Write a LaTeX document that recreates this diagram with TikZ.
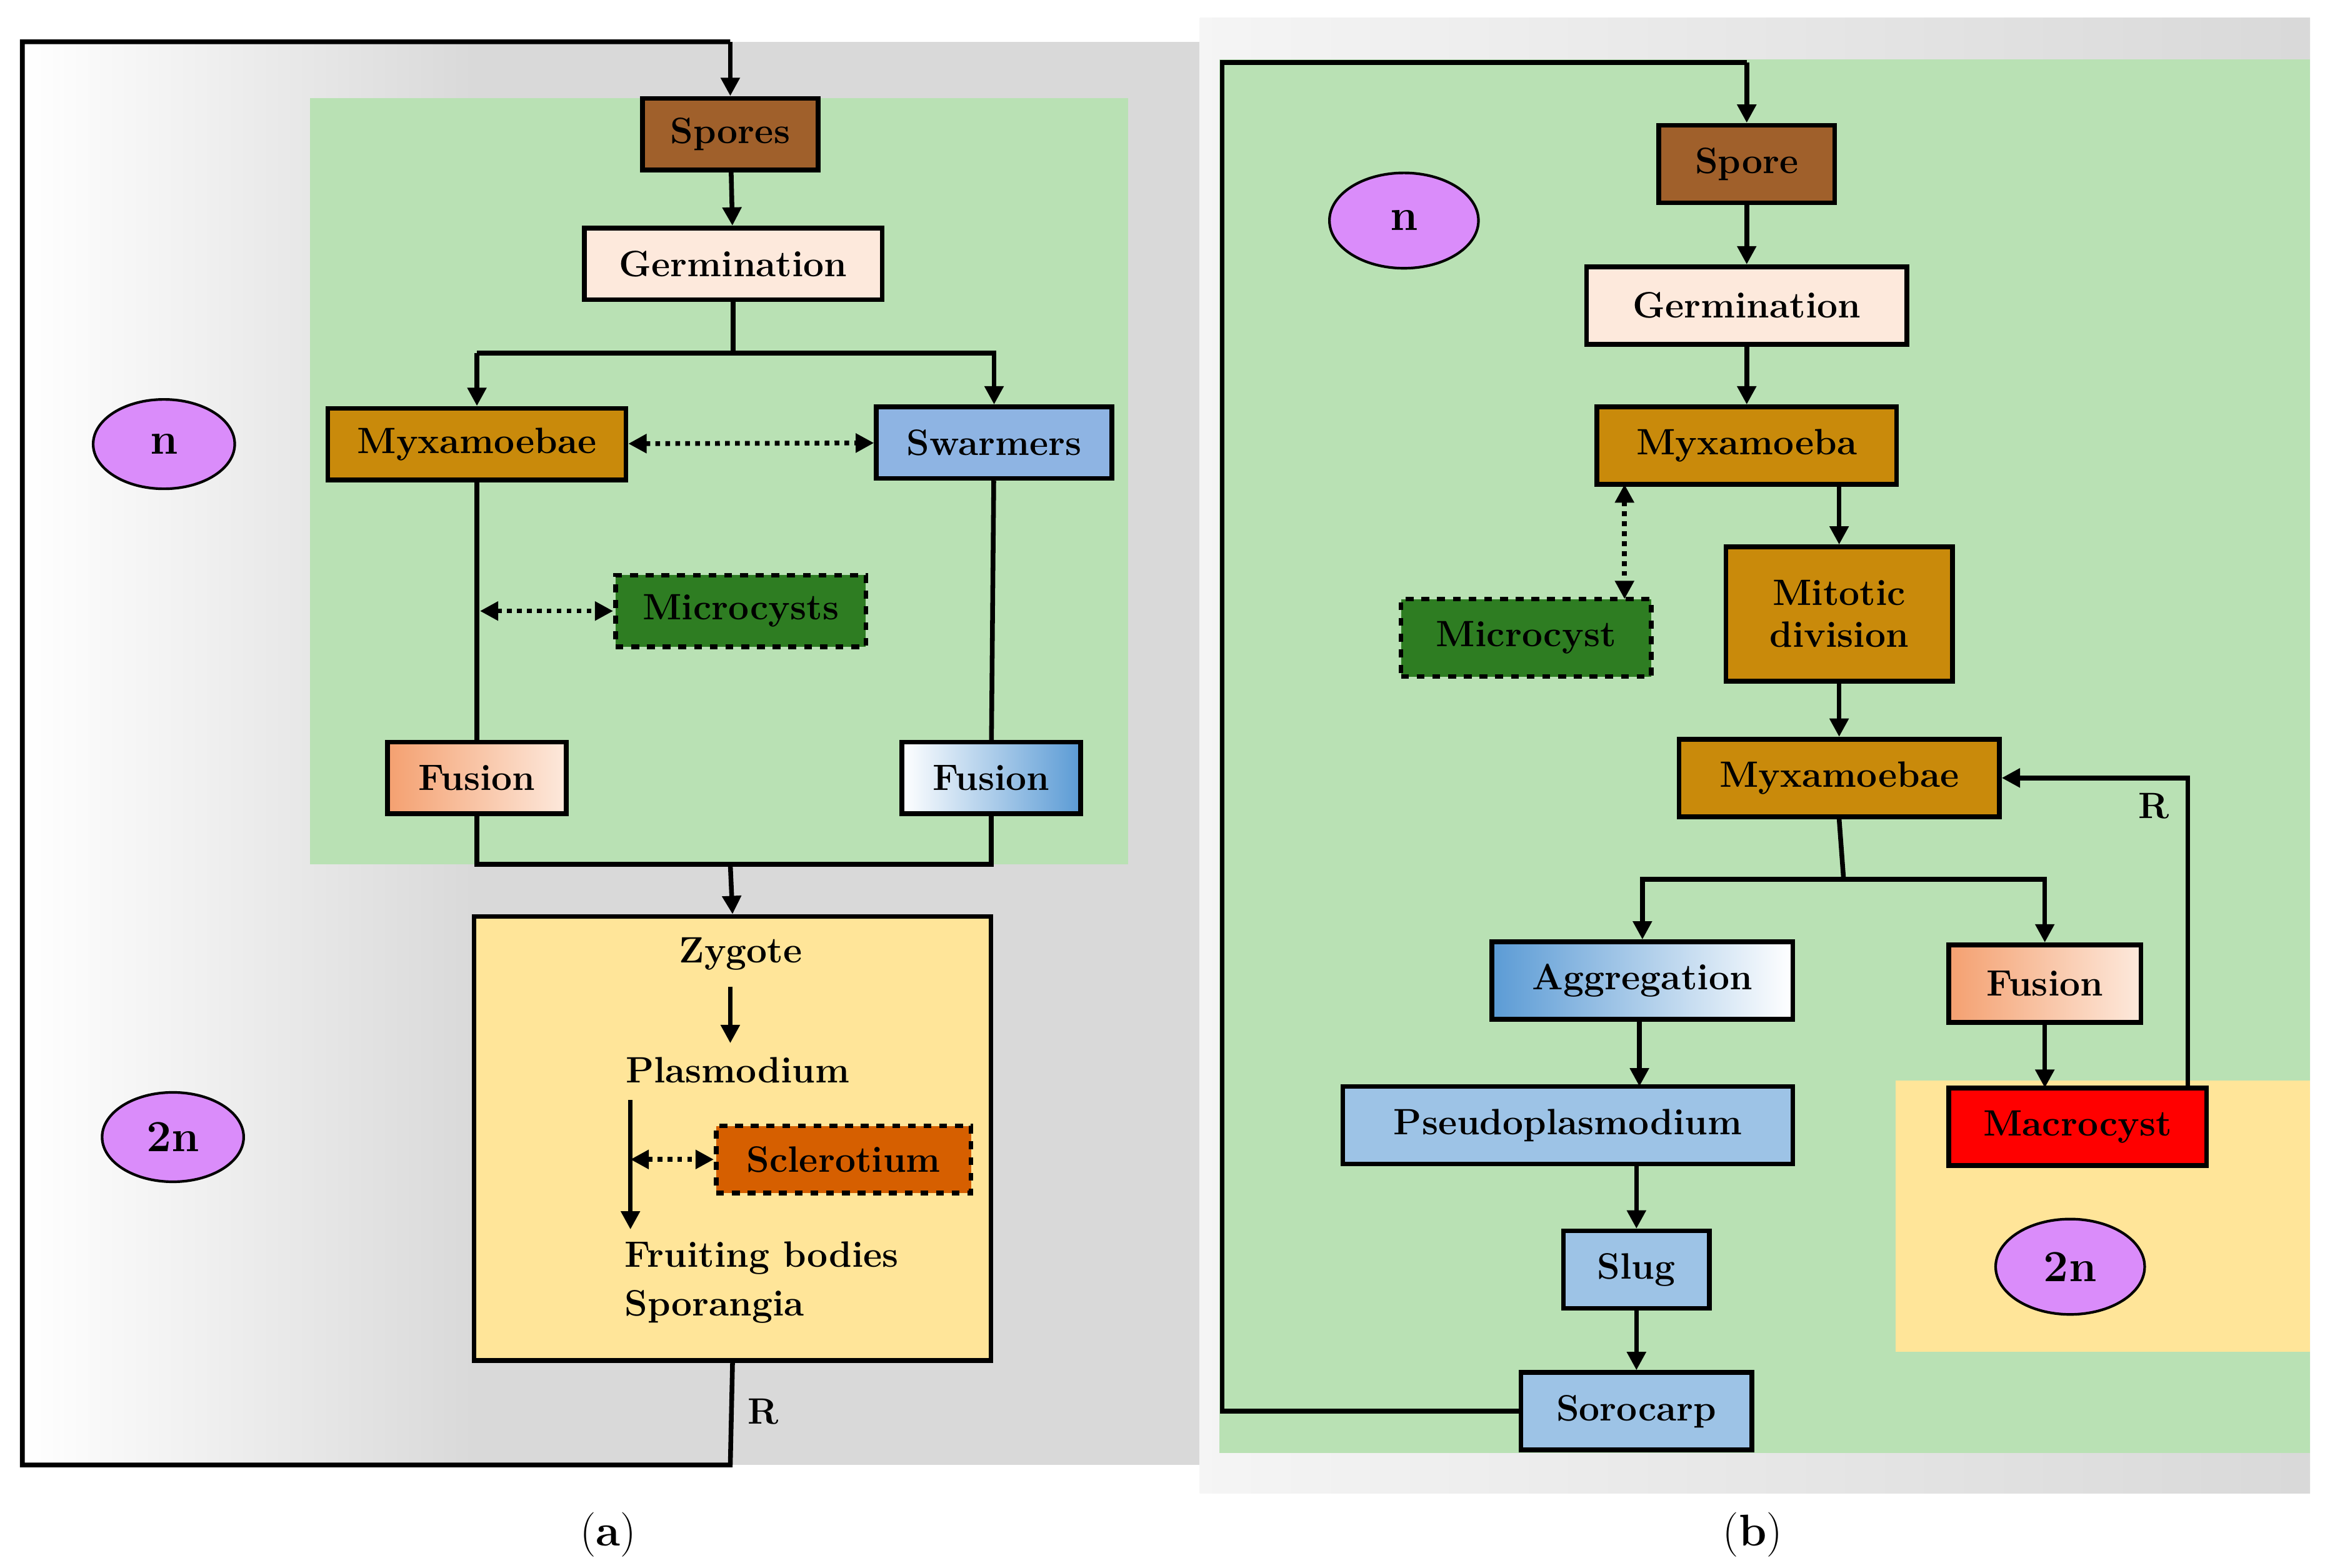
\documentclass[tikz,border=0pt]{standalone}
\usetikzlibrary{arrows.meta,shapes.geometric}
\definecolor{bgreen}{HTML}{B9E1B4}
\definecolor{byellow}{HTML}{FFE599}
\definecolor{bbrown}{HTML}{A0602B}
\definecolor{bgold}{HTML}{C98A0B}
\definecolor{bpeach}{HTML}{FDE9DC}
\definecolor{bblue}{HTML}{8EB4E3}
\definecolor{lblue}{HTML}{9DC3E6}
\definecolor{mblue}{HTML}{5B9BD5}
\definecolor{dgreen}{HTML}{2E7D22}
\definecolor{borange}{HTML}{D65F00}
\definecolor{lorange}{HTML}{F4A070}
\definecolor{bviolet}{HTML}{DA8CFA}
\tikzset{
  stage/.style={draw,line width=1.8pt,minimum height=0.96cm,inner sep=2pt,font=\fontsize{14}{16}\selectfont\bfseries},
  cyst/.style={stage,dashed},
  ploidy/.style={ellipse,draw,line width=1pt,fill=bviolet,minimum width=1.9cm,minimum height=1.2cm,font=\fontsize{17}{19}\selectfont\bfseries},
  lbl/.style={font=\fontsize{14}{16}\selectfont\bfseries},
  flow/.style={line width=1.8pt,-{Triangle[length=7pt,width=7pt]}},
  link/.style={line width=1.8pt},
  swap/.style={line width=1.8pt,dotted,{Triangle[length=7pt,width=7pt]}-{Triangle[length=7pt,width=7pt]}}
}
\begin{document}
\begin{tikzpicture}[x=0.02cm,y=-0.02cm]
\useasboundingbox (0,0) rectangle (1560,1052);
% backgrounds
\shade[left color=white,right color=gray!30] (15,28) rectangle (320,983);
\fill[gray!30] (320,28) rectangle (805,983);
\fill[bgreen] (208,66) rectangle (757,580);
\shade[left color=gray!8,right color=gray!30] (805,12) rectangle (1550,1002);
\fill[bgreen] (818,40) rectangle (1550,975);
\fill[byellow] (1272,725) rectangle (1550,907);

% (a)
\node[stage,fill=bbrown,minimum width=2.36cm] (spores) at (490,90) {Spores};
\node[stage,fill=bpeach,minimum width=4cm] (germa) at (492,177) {Germination};
\node[stage,fill=bgold,minimum width=4cm] (myxa) at (320,298) {Myxamoebae};
\node[stage,fill=bblue,minimum width=3.16cm] (swarm) at (667,297) {Swarmers};
\node[cyst,fill=dgreen,minimum width=3.36cm] (microa) at (497,410) {Microcysts};
\node[stage,left color=lorange,right color=bpeach,minimum width=2.4cm] (fusl) at (320,522) {Fusion};
\node[stage,left color=white,right color=mblue,minimum width=2.4cm] (fusr) at (665,522) {Fusion};
\node[draw,line width=1.8pt,fill=byellow,minimum width=6.94cm,minimum height=5.96cm] (zbox) at (491.5,764) {};
\node[lbl] (zyg) at (497,640) {Zygote};
\node[lbl] (plas) at (495,718) {Plasmodium};
\node[cyst,fill=borange,minimum width=3.42cm,minimum height=0.9cm] (scler) at (566,778) {Sclerotium};
\node[lbl,anchor=west] (fruit) at (413,844) {Fruiting bodies};
\node[lbl,anchor=west] (spor) at (413,877) {Sporangia};
\node[ploidy] (na) at (110,298) {n};
\node[ploidy] (dna) at (116,763) {2n};
\node[lbl] (ra) at (512,947) {R};
\node[font=\fontsize{17}{19}\selectfont] (capa) at (408,1030) {(\textbf{a})};

\draw[link] (zbox.south) -- (490,983) -- (15,983) -- (15,28) -- (490,28);
\draw[flow] (490,28) -- (spores.north);
\draw[flow] (spores) -- (germa);
\draw[link] (germa.south) -- (492,237);
\draw[flow] (320,237) -- (667,237) -- (swarm.north);
\draw[flow] (320,237) -- (myxa.north);
\draw[swap] (myxa) -- (swarm);
\draw[link] (myxa) -- (fusl);
\draw[link] (swarm) -- (fusr);
\draw[swap] (322,410) -- (microa.west);
\draw[link] (fusl.south) |- (490,580) -| (fusr.south);
\draw[flow] (490,580) -- (zbox.north);
\draw[flow] (490,662) -- (490,700);
\draw[flow] (423,738) -- (423,825);
\draw[swap] (423,778) -- (scler.west);

% (b)
\node[stage,fill=bbrown,minimum width=2.36cm,minimum height=1.04cm] (spore) at (1172,110) {Spore};
\node[stage,fill=bpeach,minimum width=4.3cm,minimum height=1.04cm] (germb) at (1172,205) {Germination};
\node[stage,fill=bgold,minimum width=4.02cm,minimum height=1.04cm] (myxb) at (1172,299) {Myxamoeba};
\node[stage,fill=bgold,minimum width=3.04cm,minimum height=1.8cm,align=center] (mito) at (1234,412) {Mitotic\\division};
\node[cyst,fill=dgreen,minimum width=3.36cm,minimum height=1.04cm] (microb) at (1024,428) {Microcyst};
\node[stage,fill=bgold,minimum width=4.3cm,minimum height=1.04cm] (myxc) at (1234,522) {Myxamoebae};
\node[stage,left color=mblue,right color=white,minimum width=4.04cm,minimum height=1.04cm] (aggr) at (1102,658) {Aggregation};
\node[stage,left color=lorange,right color=bpeach,minimum width=2.58cm,minimum height=1.04cm] (fusb) at (1372,660) {Fusion};
\node[stage,fill=lblue,minimum width=6.04cm,minimum height=1.04cm] (pseudo) at (1052,755) {Pseudoplasmodium};
\node[stage,fill=red,minimum width=3.46cm,minimum height=1.04cm] (macro) at (1394,756) {Macrocyst};
\node[stage,fill=lblue,minimum width=1.96cm,minimum height=1.04cm] (slug) at (1098,852) {Slug};
\node[stage,fill=lblue,minimum width=3.1cm,minimum height=1.04cm] (soro) at (1098,947) {Sorocarp};
\node[ploidy,minimum width=2cm,minimum height=1.28cm] (nb) at (942,148) {n};
\node[ploidy,minimum width=2cm,minimum height=1.28cm] (dnb) at (1389,850) {2n};
\node[lbl] (rb) at (1445,541) {R};
\node[font=\fontsize{17}{19}\selectfont] (capb) at (1176,1030) {(\textbf{b})};

\draw[link] (soro.west) -- (820,947) -- (820,42) -- (1172,42);
\draw[flow] (1172,42) -- (spore.north);
\draw[flow] (spore) -- (germb);
\draw[flow] (germb) -- (myxb);
\draw[flow] (1234,325) -- (mito.north);
\draw[swap] (1090,325) -- (1090,402);
\draw[flow] (mito) -- (myxc);
\draw[link] (myxc.south) -- (1237,590);
\draw[flow] (1237,590) -| (aggr.north);
\draw[flow] (1237,590) -| (fusb.north);
\draw[flow] (1100,684) -- (1100,729);
\draw[flow] (1098,781) -- (slug.north);
\draw[flow] (slug) -- (soro);
\draw[flow] (fusb) -- (1372,730);
\draw[flow] (1468,730) |- (myxc.east);
\end{tikzpicture}
\end{document}
